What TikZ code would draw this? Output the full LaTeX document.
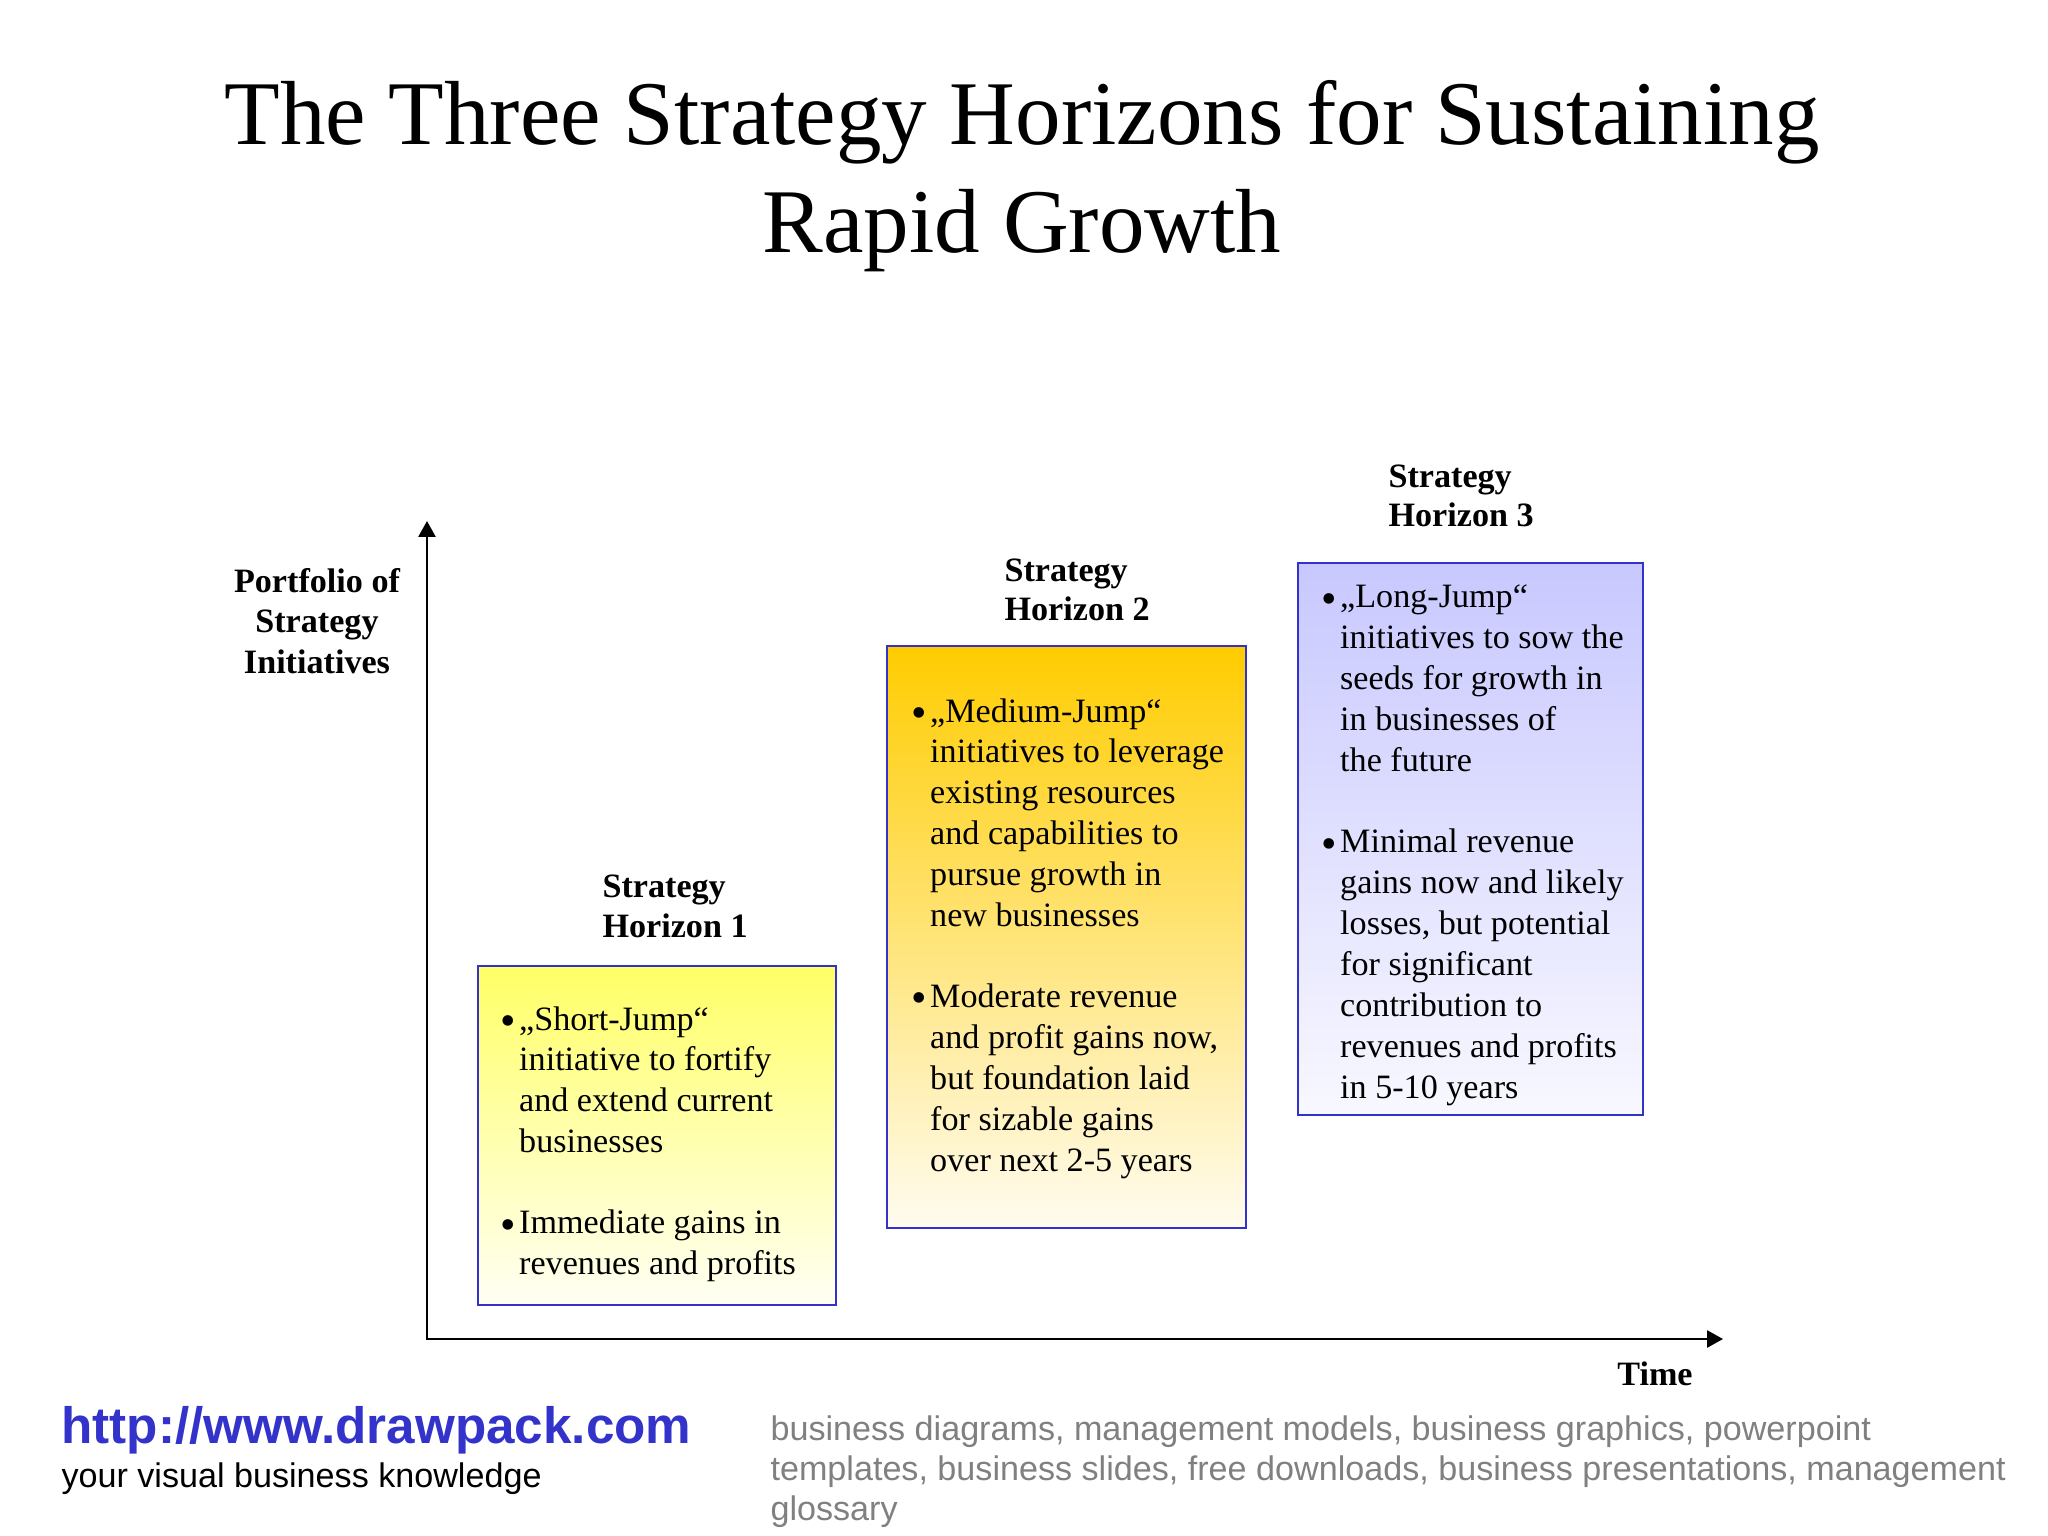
\documentclass[tikz,border=0pt]{standalone}
\usepackage{fontspec}
\setmainfont{Liberation Serif}
\newfontfamily\arialfont{Liberation Sans}
\usetikzlibrary{arrows.meta}

\definecolor{hblue}{RGB}{51,51,204}
\definecolor{urlblue}{RGB}{51,51,204}
\definecolor{footgrey}{RGB}{128,128,128}
\definecolor{onetop}{RGB}{255,255,102}
\definecolor{onebot}{RGB}{255,255,244}
\definecolor{twotop}{RGB}{255,204,0}
\definecolor{twobot}{RGB}{255,252,240}
\definecolor{threetop}{RGB}{200,200,255}
\definecolor{threebot}{RGB}{248,248,255}

\tikzset{
  axis/.style={line width=0.8pt, {Triangle[width=6pt,length=5.6pt]}-{Triangle[width=6pt,length=5.6pt]}},
  hbox/.style={draw=hblue, line width=0.7pt},
  boxtext/.style={anchor=base west, inner sep=0, font=\fontsize{12}{14.4}\selectfont},
  hlabel/.style={anchor=base west, inner sep=0, align=left, font=\bfseries\fontsize{12}{14}\selectfont},
}
\newcommand{\bpt}{\makebox[6.2pt][l]{\hspace{-0.3pt}\raisebox{-1.9pt}{\fontsize{15.5}{15.5}\selectfont\textbullet}}}

\begin{document}
\begin{tikzpicture}[x=0.3515625pt, y=-0.3515625pt]
  \useasboundingbox (0,0) rectangle (2048,1536);

  % title (base = last line)
  \node[anchor=base, inner sep=0, align=center, font=\fontsize{32}{38.3}\selectfont] (title) at (1022,253)
    {The Three Strategy Horizons for Sustaining\\Rapid Growth};

  % axes
  \coordinate (origin) at (427,1339);
  \coordinate (ytop) at (427,521);
  \coordinate (xend) at (1723,1339);
  \draw[axis] (ytop) -- (origin) -- (xend);
  \node[anchor=base, inner sep=0, align=center, font=\bfseries\fontsize{12}{14.2}\selectfont] (ylab) at (317,673)
    {Portfolio of\\Strategy\\Initiatives};
  \node[anchor=base, inner sep=0, font=\bfseries\fontsize{12}{14}\selectfont] (xlab) at (1655,1385) {Time};

  % horizon boxes
  \draw[hbox, top color=onetop, bottom color=onebot] (478,966) rectangle (836,1305);
  \draw[hbox, top color=twotop, bottom color=twobot] (887,646) rectangle (1246,1228);
  \draw[hbox, top color=threetop, bottom color=threebot] (1298,563) rectangle (1643,1115);

  \node[hlabel] (h1lab) at (602,937) {Strategy\\Horizon 1};
  \node[hlabel] (h2lab) at (1004,621) {Strategy\\Horizon 2};
  \node[hlabel] (h3lab) at (1388,527) {Strategy\\Horizon 3};

  \node[boxtext] (h1text) at (501,1030) {\begin{tabular}[t]{@{}l@{}l@{}}
    \bpt & „Short-Jump“\\
         & initiative to fortify\\
         & and extend current\\
         & businesses\\[14pt]
    \bpt & Immediate gains in\\
         & revenues and profits
  \end{tabular}};

  \node[boxtext] (h2text) at (912,722) {\begin{tabular}[t]{@{}l@{}l@{}}
    \bpt & „Medium-Jump“\\
         & initiatives to leverage\\
         & existing resources\\
         & and capabilities to\\
         & pursue growth in\\
         & new businesses\\[14pt]
    \bpt & Moderate revenue\\
         & and profit gains now,\\
         & but foundation laid\\
         & for sizable gains\\
         & over next 2-5 years
  \end{tabular}};

  \node[boxtext] (h3text) at (1322,608) {\begin{tabular}[t]{@{}l@{}l@{}}
    \bpt & „Long-Jump“\\
         & initiatives to sow the\\
         & seeds for growth in\\
         & in businesses of\\
         & the future\\[14pt]
    \bpt & Minimal revenue\\
         & gains now and likely\\
         & losses, but potential\\
         & for significant\\
         & contribution to\\
         & revenues and profits\\
         & in 5-10 years
  \end{tabular}};

  % footer
  \node[anchor=base west, inner sep=0, text=urlblue, font=\arialfont\bfseries\fontsize{18}{21}\selectfont] (url) at (61,1443)
    {http://www.drawpack.com};
  \node[anchor=base west, inner sep=0, font=\arialfont\fontsize{12}{14}\selectfont] (motto) at (61,1487)
    {your visual business knowledge};
  \node[anchor=base west, inner sep=0, align=left, text=footgrey, font=\arialfont\fontsize{12}{13.9}\selectfont] (tags) at (770,1520)
    {business diagrams, management models, business graphics, powerpoint\\
     templates, business slides, free downloads, business presentations, management\\
     glossary};
\end{tikzpicture}
\end{document}
